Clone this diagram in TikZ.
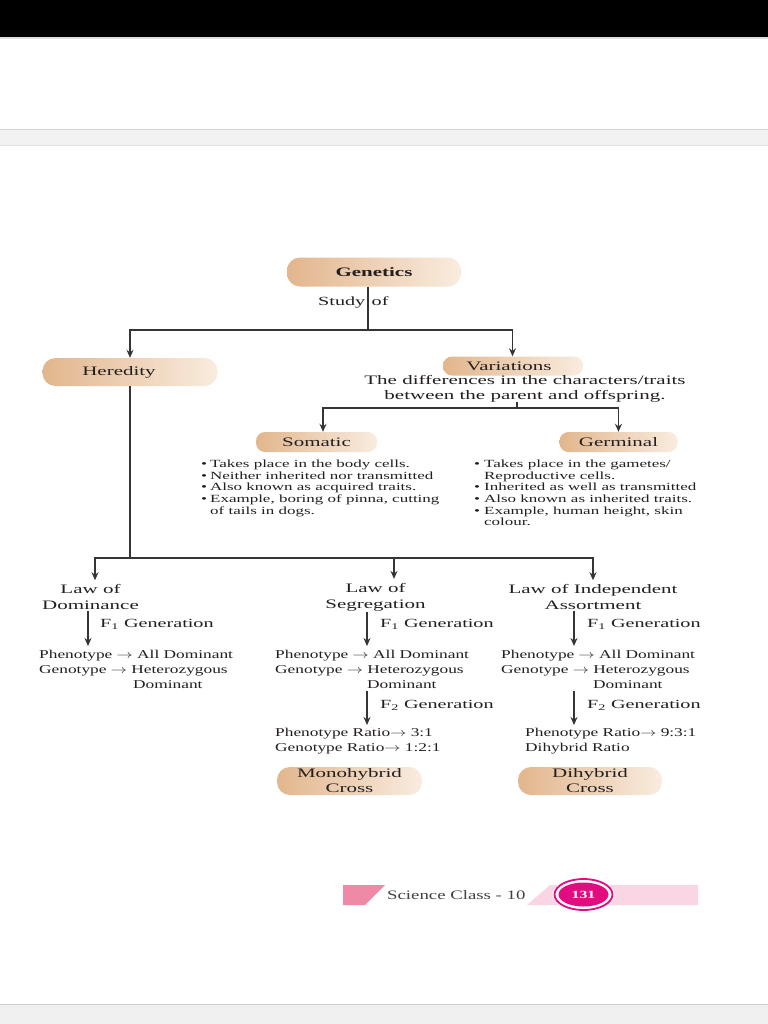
\documentclass[tikz,border=0pt]{standalone}
\usepackage{fontspec}
\setmainfont{Liberation Serif}[FakeStretch=1.45]
\newfontfamily\widefont{Liberation Serif}[FakeStretch=1.62]
\newfontfamily\bulfont{Liberation Serif}[FakeStretch=1.55]
\usetikzlibrary{arrows.meta,calc}
\definecolor{tanL}{HTML}{E2B68D}
\definecolor{tanR}{HTML}{F9ECDF}
\definecolor{lncol}{HTML}{353535}
\definecolor{txt}{HTML}{231F20}
\definecolor{pinkA}{HTML}{EE8AA6}
\definecolor{pinkB}{HTML}{FAD6E5}
\definecolor{mag}{HTML}{E30B80}
\newcommand{\ra}{\scalebox{1.35}[1]{$\rightarrow$}}
\tikzset{
  pill/.style={draw=none, left color=tanL, right color=tanR, rounded corners=13bp,
    inner sep=0pt, text=txt, font=\widefont\fontsize{13}{15}\selectfont},
  spill/.style={pill, rounded corners=9bp},
  ln/.style={draw=lncol, line width=1.8bp},
  arr/.style={ln, -{Stealth[length=8bp,width=7bp]}},
  body/.style={inner sep=0pt, text=txt, align=left, font=\fontsize{12}{15}\selectfont},
  lab/.style={inner sep=0pt, text=txt, font=\widefont\fontsize{12.5}{15}\selectfont},
  law/.style={inner sep=0pt, text=txt, align=center, font=\widefont\fontsize{13}{16}\selectfont},
  bul/.style={inner sep=0pt, text=txt, font=\bulfont\fontsize{11}{11.6}\selectfont},
}
\begin{document}
\begin{tikzpicture}[x=1bp,y=-1bp]
\path[use as bounding box, fill=white] (0,0) rectangle (768,1024);
% page chrome
\fill[black] (0,0) rectangle (768,37);
\fill[gray!25] (0,37) rectangle (768,38.5);
\fill[black!5] (0,129) rectangle (768,146);
\draw[black!17, line width=1.5bp] (0,129.5) -- (768,129.5);
\draw[black!11, line width=1bp] (0,145.5) -- (768,145.5);
\fill[black!6] (0,1004) rectangle (768,1024);
\draw[black!19, line width=1.5bp] (0,1004.5) -- (768,1004.5);

% main boxes
\node[pill, minimum width=174bp, minimum height=29bp] (gen) at (374,272) {\textbf{Genetics}};
\node[pill, minimum width=175bp, minimum height=28bp] (her) at (130,372) {Heredity\hspace*{22bp}};
\node[spill, minimum width=140bp, minimum height=19bp] (var) at (513,366) {Variations\hspace*{8bp}};
\node[lab, align=center, font=\widefont\fontsize{13}{15}\selectfont] (vdesc) at (525,388.5)
  {The differences in the characters/traits\\between the parent and offspring.};
\node[spill, minimum width=121bp, minimum height=20bp] (som) at (316.5,442) {Somatic};
\node[spill, minimum width=118bp, minimum height=20bp] (ger) at (618.5,442) {Germinal};

% study of
\coordinate (j1) at (368,330);
\draw[ln] (j1 |- gen.south) -- (j1);
\node[lab, anchor=base east] (study) at (365.5,305) {Study};
\node[lab, anchor=base west] (of) at (371.5,305) {of};
\draw[arr] (j1) -| (her.north);
\draw[arr] (j1) -| ([xshift=-0.5bp]var.north);

% variations split
\coordinate (j2) at (517,408);
\draw[ln] (vdesc.south -| j2) -- (j2);
\draw[arr] (j2) -| ([xshift=6.5bp]som.north);
\draw[arr] (j2) -| (ger.north);

% bullets
\node[bul, anchor=north west] (sombul) at (201,459.5) {%
\begin{tabular}{@{}l@{\hspace{3bp}}l@{}}
\textbullet & Takes place in the body cells.\\
\textbullet & Neither inherited nor transmitted\\
\textbullet & Also known as acquired traits.\\
\textbullet & Example, boring of pinna, cutting\\
 & of tails in dogs.
\end{tabular}};
\node[bul, anchor=north west] (gerbul) at (474,459.5) {%
\begin{tabular}{@{}l@{\hspace{4bp}}l@{}}
\textbullet & Takes place in the gametes/\\
 & Reproductive cells.\\
\textbullet & Inherited as well as transmitted\\
\textbullet & Also known as inherited traits.\\
\textbullet & Example, human height, skin\\
 & colour.
\end{tabular}};

% heredity -> laws
\coordinate (j3) at (130,558);
\draw[ln] (her.south) -- (j3);
\node[law] (lawd) at (90.5,597) {Law of\\Dominance};
\node[law] (laws) at (375.5,597) {Law of\\Segregation};
\node[law] (lawi) at (593,597) {Law of Independent\\Assortment};
\draw[arr] (j3) -| ([xshift=4.5bp,yshift=4bp]lawd.north);
\draw[arr] (j3) -| ([xshift=18.5bp,yshift=4bp]laws.north);
\draw[arr] (j3) -| ([yshift=4bp]lawi.north);

% F1 results
\node[body, anchor=north west] (d1) at (39,650) {%
Phenotype \ra{} All Dominant\\
Genotype \ra{} Heterozygous\\
\hspace*{94bp}Dominant};
\node[body, anchor=north west] (s1) at (275,650) {%
Phenotype \ra{} All Dominant\\
Genotype \ra{} Heterozygous\\
\hspace*{92bp}Dominant};
\node[body, anchor=north west] (i1) at (501,650) {%
Phenotype \ra{} All Dominant\\
Genotype \ra{} Heterozygous\\
\hspace*{92bp}Dominant};

\coordinate (xd) at (88,0);
\coordinate (xs) at (367,0);
\coordinate (xi) at (574,0);
\draw[arr] ([yshift=-1bp]lawd.south -| xd) -- ([yshift=4bp]d1.north -| xd);
\draw[arr] ([yshift=-1bp]laws.south -| xs) -- ([yshift=4bp]s1.north -| xs);
\draw[arr] ([yshift=-1bp]lawi.south -| xi) -- ([yshift=4bp]i1.north -| xi);
\node[lab, anchor=west] (fd1) at (100,624.5) {F\textsubscript{1} Generation};
\node[lab, anchor=west] (fs1) at (380,624.5) {F\textsubscript{1} Generation};
\node[lab, anchor=west] (fi1) at (587,624.5) {F\textsubscript{1} Generation};

% F2 results
\node[body, anchor=north west] (s2) at (275,728) {%
Phenotype Ratio\ra{} 3:1\\
Genotype Ratio\ra{} 1:2:1};
\node[body, anchor=north west] (i2) at (525,728) {%
Phenotype Ratio\ra{} 9:3:1\\
Dihybrid Ratio};
\draw[arr] ([yshift=-2bp]s1.south -| xs) -- ([yshift=3bp]s2.north -| xs);
\draw[arr] ([yshift=-2bp]i1.south -| xi) -- ([yshift=3bp]i2.north -| xi);
\node[lab, anchor=west] (fs2) at (380,705.5) {F\textsubscript{2} Generation};
\node[lab, anchor=west] (fi2) at (587,705.5) {F\textsubscript{2} Generation};

\node[pill, align=center, font=\widefont\fontsize{13}{15}\selectfont, minimum width=145bp, minimum height=28bp] (mono) at (349.5,781) {Monohybrid\\Cross};
\node[pill, align=center, font=\widefont\fontsize{13}{15}\selectfont, minimum width=144bp, minimum height=28bp] (dih) at (590,781) {Dihybrid\\Cross};

% footer
\fill[pinkA] (343,885) -- (385,885) -- (365,905) -- (343,905) -- cycle;
\node[inner sep=0pt, text=black!75, font=\fontsize{13}{15}\selectfont, anchor=west] (sci) at (387,895) {Science Class - 10};
\fill[pinkB] (527,905) -- (550,885) -- (698,885) -- (698,905) -- cycle;
\fill[white] (583.5,894.5) ellipse [x radius=31, y radius=17];
\draw[mag, line width=1.8bp] (583.5,894.5) ellipse [x radius=29, y radius=15.5];
\fill[mag] (583.5,894.5) ellipse [x radius=25, y radius=12];
\node[inner sep=0pt, text=white, font=\bfseries\fontsize{11}{13}\selectfont] (pg) at (583.5,894.5) {131};
\end{tikzpicture}
\end{document}
